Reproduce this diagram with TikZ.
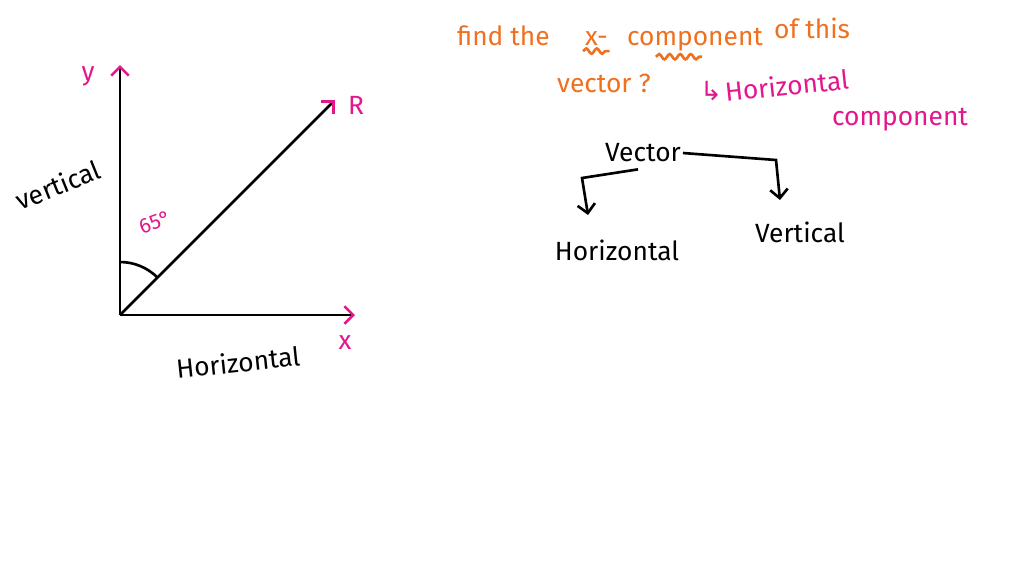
\documentclass[tikz,border=0pt]{standalone}
\usepackage{fontspec}
\setmainfont{Fira Sans}
\newfontfamily\symfont{DejaVu Sans}
\usetikzlibrary{positioning,calc,arrows.meta,decorations.pathmorphing}
\definecolor{pen}{RGB}{228,22,140}
\definecolor{ink}{RGB}{240,112,30}

\begin{document}
\begin{tikzpicture}[x=0.02cm,y=-0.02cm]
	\useasboundingbox (0,0) rectangle (1024,576);
	\begin{scope}
		\tikzstyle{every node}=[inner sep=0.1em]
		\tikzstyle{hand}=[font=\fontsize{15}{17}\selectfont]
		\tikzstyle{stroke}=[line width=1.5pt]
		\tikzstyle{tip}=[-{Straight Barb[length=5pt,width=10pt,color=pen]}]

		% axes and the vector
		\coordinate (orig) at (120,315);
		\coordinate (ytip) at (120,65);
		\coordinate (xtip) at (355,315);
		\coordinate (rtip) at (335,100);

		\draw [stroke, tip] (orig) -- (ytip);
		\draw [stroke, tip] (orig) -- (xtip);
		\draw [stroke, tip] (orig) -- (rtip);
		\draw [stroke] ($(orig)+(0,-53)$) arc (-90:-45:53);

		\node [hand, pen] (ylab) at (88,76) {y};
		\node [hand, pen] (xlab) at (345,343) {x};
		\node [hand, pen] (rlab) at (356,105) {R};
		\node [hand, pen, rotate=20, font=\fontsize{12}{14}\selectfont] (ang) at (155,222) {65°};
		\node [hand, rotate=22] (vlab) at (58,185) {vertical};
		\node [hand, rotate=6] (hlab) at (238,362) {Horizontal};

		% question
		\node [hand, ink, anchor=base west] (find) at (455,45) {find the};
		\node [hand, ink, anchor=base west] (xc) at (583,45) {x-};
		\node [hand, ink, anchor=base west] (comp) at (625,45) {component};
		\node [hand, ink, anchor=base west] (ofthis) at (772,38) {of this};
		\node [hand, ink, anchor=base west] (vecq) at (555,92) {vector ?};

		\draw [ink, stroke, decorate, decoration={snake, amplitude=1.5pt, segment length=6pt}]
			($(xc.south west)+(0,4)$) -- ($(xc.south east)+(0,4)$);
		\draw [ink, stroke, decorate, decoration={snake, amplitude=1.5pt, segment length=6pt}]
			($(comp.south west)!0.22!(comp.south east)+(0,4)$) -- ($(comp.south west)!0.55!(comp.south east)+(0,4)$);

		% answer
		\node [hand, pen, anchor=base west] (hook) at (698,100) {\symfont ↳};
		\node [hand, pen, anchor=base west, rotate=6] (horiz) at (724,102) {Horizontal};
		\node [hand, pen, anchor=base west] (compo) at (830,125) {component};

		% tree
		\node [hand] (vec) at (643,153) {Vector};
		\node [hand] (hor) at (617,250) {Horizontal};
		\node [hand] (ver) at (800,232) {Vertical};

		\coordinate (lc) at (582,178);
		\coordinate (lt) at (588,215);
		\coordinate (rc) at (776,160);
		\coordinate (rt) at (780,200);

		\draw [stroke, -{Straight Barb[length=5pt,width=10pt]}] ($(vec.south)+(-5,5)$) -- (lc) -- (lt);
		\draw [stroke, -{Straight Barb[length=5pt,width=10pt]}] (vec.east) -- (rc) -- (rt);
	\end{scope}
\end{tikzpicture}
\end{document}
